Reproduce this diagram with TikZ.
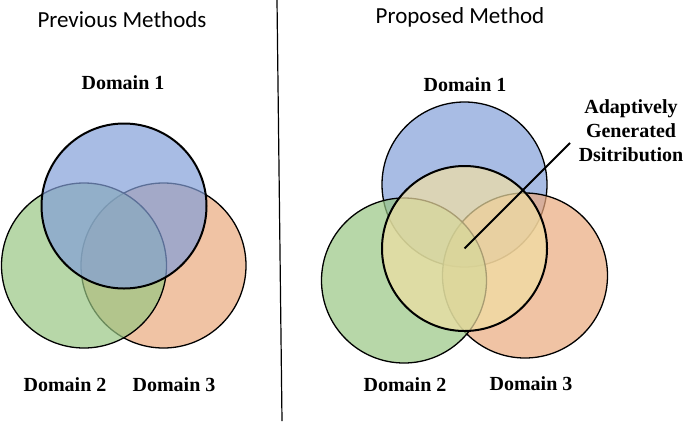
\documentclass[tikz,border=0pt]{standalone}
\usepackage{fontspec}
\setmainfont{Liberation Serif}
\newfontfamily\calibri{Carlito}
\definecolor{dblue}{RGB}{131,159,216}
\definecolor{dgreen}{RGB}{152,198,131}
\definecolor{dorange}{RGB}{234,169,126}
\definecolor{dyellow}{RGB}{240,223,163}
\tikzset{
  venn/.style={circle, draw=black, line width=1.3pt, inner sep=0pt, minimum size=165pt, fill opacity=0.7},
  vennbold/.style={venn, line width=2pt},
  dlabel/.style={font=\bfseries\fontsize{20}{24}\selectfont, align=center},
  ptitle/.style={font=\calibri\fontsize{23}{28}\selectfont}
}
\begin{document}
\begin{tikzpicture}[x=1pt, y=-1pt]
\useasboundingbox (0,0) rectangle (685,421);
% left: previous methods
\node[ptitle] (tleft) at (122,20) {Previous Methods};
\node[venn, fill=dorange] (o1) at (163.5,265.5) {};
\node[venn, fill=dgreen] (g1) at (84,265.5) {};
\node[vennbold, fill=dblue] (b1) at (124,206) {};
\node[dlabel] (l11) at (123,83) {Domain 1};
\node[dlabel] (l12) at (65,385) {Domain 2};
\node[dlabel] (l13) at (174,385) {Domain 3};
% separator
\coordinate (septop) at (277,0);
\coordinate (sepbot) at (282,421);
\draw[line width=1.2pt] (septop) -- (sepbot);
% right: proposed method
\node[ptitle] (tright) at (460,17) {Proposed Method};
\node[venn, fill=dblue] (b2) at (464.5,184.5) {};
\node[venn, fill=dorange] (o2) at (525,275.5) {};
\node[venn, fill=dgreen] (g2) at (404,280.5) {};
\node[vennbold, fill=dyellow] (y2) at (464.5,248.5) {};
\node[dlabel] (l21) at (465,85) {Domain 1};
\node[dlabel] (l22) at (405,385) {Domain 2};
\node[dlabel] (l23) at (531,384) {Domain 3};
\node[dlabel] (adg) at (631,131) {Adaptively\\Generated\\Dsitribution};
\coordinate (tip) at (570,143);
\draw[line width=2pt] (y2.center) -- (tip);
\end{tikzpicture}
\end{document}
